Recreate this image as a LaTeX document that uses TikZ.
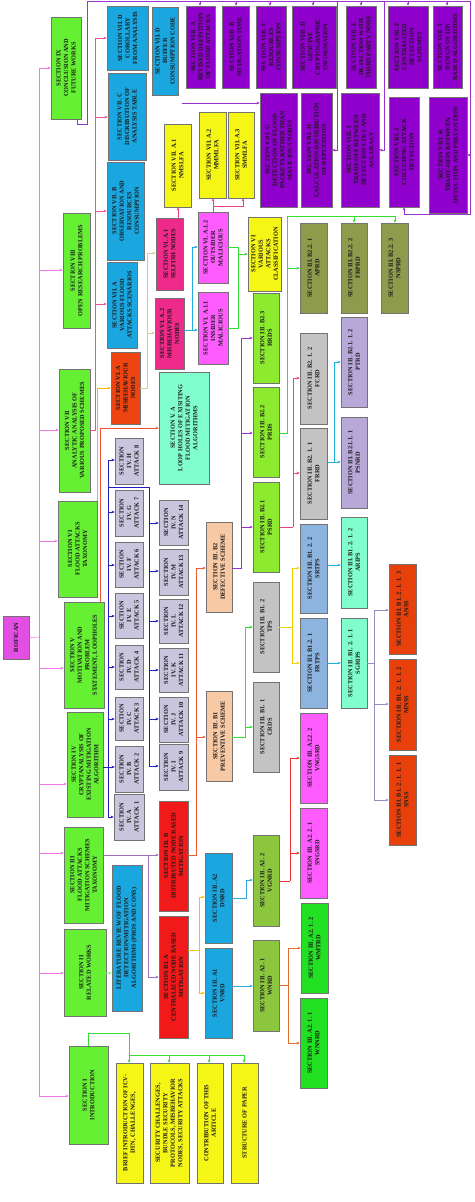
\documentclass[tikz,border=0pt]{standalone}
\usepackage{fontspec}
\setmainfont{Liberation Serif}
\usetikzlibrary{arrows.meta}
\definecolor{kgreen}{HTML}{66F033}
\definecolor{kblue}{HTML}{1AA7E0}
\definecolor{kyel}{HTML}{F5F516}
\definecolor{kpurp}{HTML}{9000CC}
\definecolor{katt}{HTML}{C9C5DD}
\definecolor{kred}{HTML}{F01A1A}
\definecolor{korg}{HTML}{EE4411}
\definecolor{kpink}{HTML}{EE2A8A}
\definecolor{kmag}{HTML}{FF5CFF}
\definecolor{kaqua}{HTML}{80FFCC}
\definecolor{kpeach}{HTML}{F7C9A5}
\definecolor{klime}{HTML}{8CEB2E}
\definecolor{kgray}{HTML}{C3C3C3}
\definecolor{kolive}{HTML}{8E9A4C}
\definecolor{ksteel}{HTML}{8DB4DE}
\definecolor{klav}{HTML}{B7A8D8}
\definecolor{knred}{HTML}{E8400A}
\definecolor{kygreen}{HTML}{8CC63E}
\definecolor{kbgreen}{HTML}{22E022}
\definecolor{krof}{HTML}{E24FE2}
% connector colours
\definecolor{lpink}{HTML}{EE77EE}
\definecolor{lpurp}{HTML}{9933CC}
\definecolor{lvii}{HTML}{F0509A}
\definecolor{lvi}{HTML}{F5B800}
\definecolor{lv}{HTML}{F05030}
\definecolor{liv}{HTML}{2020C0}
\definecolor{liii}{HTML}{A070C0}
\definecolor{liiib}{HTML}{F05A30}
\definecolor{liiia}{HTML}{F5C000}
\definecolor{lblue}{HTML}{30A8E0}
\definecolor{lred}{HTML}{F03030}
\definecolor{lbrown}{HTML}{E07030}
\definecolor{lgreen}{HTML}{33DD33}
\definecolor{lyel}{HTML}{F5D000}
\definecolor{lcyan}{HTML}{20B0E0}
\definecolor{lgl}{HTML}{9090C0}
\definecolor{lpk}{HTML}{F04080}
\definecolor{lkhaki}{HTML}{D8C89A}
\definecolor{lltg}{HTML}{88EE88}
\tikzset{
  box/.style={draw=black!55,line width=0.6pt,rotate=90,inner sep=0.5pt,align=center,
    text=black!90,font=\fontsize{6.3}{7.5}\selectfont\bfseries},
  conn/.style={line width=0.6pt},
  arr/.style={conn,-{Stealth[length=3.2pt,width=2.8pt]}}
}
\newcommand\bx[7]{%
  \node[box,#6,minimum width={(#5-#3)*1pt},minimum height={(#4-#2)*1pt}]
    (#1) at ({(#2+#4)/2},{(#3+#5)/2}) {#7};}
\begin{document}
\begin{tikzpicture}[x=1pt,y=-1pt]
\useasboundingbox (0,0) rectangle (474,1202);
\fill[white] (0,0) rectangle (474,1202);

% ---- main sections
\bx{rof}{3}{616}{29}{659}{fill=krof}{ROFICAN}
\bx{s1}{69}{1046}{108}{1144}{fill=kgreen}{SECTION I\\INTRODUCTION}
\bx{s2}{64}{929}{106}{1016}{fill=kgreen}{SECTION II\\RELATED WORKS}
\bx{s3}{64}{827}{103}{923}{fill=kgreen}{SECTION III\\FLOOD ATTACKS\\MITIGATION SCHEMES\\TAXONOMY}
\bx{s4}{67}{712}{103}{817}{fill=kgreen}{SECTION IV\\CRYPTANALYSIS OF\\EXISTING MITIGATION\\ALGORITHM}
\bx{s5}{64}{602}{104}{708}{fill=kgreen}{SECTION V\\MOTIVATION AND\\PROBLEM\\STATEMENT, LOOPHOLES}
\bx{s6}{58}{501}{97}{597}{fill=kgreen}{SECTION VI\\FLOOD ATTACKS\\TAXONOMY}
\bx{s7}{59}{369}{90}{492}{fill=kgreen}{SECTION VII\\ANALYTIC ANALYSIS OF\\VARIOUS PROPOSED SCHEMES}
\bx{s8}{63}{213}{90}{328}{fill=kgreen}{SECTION VIII\\OPEN RESEARCH PROBLEMS}
\bx{s9}{51}{17}{81}{119}{fill=kgreen}{SECTION IX\\CONCLUSION AND\\FUTURE WORKS}

% ---- column B
\bx{s7d}{107}{6}{148}{70}{fill=kblue}{SECTION VII. D\\COROLLARY\\FROM ANALYSIS}
\bx{s7c}{108}{73}{146}{160}{fill=kblue}{SECTION VII. C\\DISCRIBUTION OF\\ANALYSIS TABLE}
\bx{s7b}{107}{162}{144}{260}{fill=kblue}{SECTION VII. B\\OBSERVATION AND\\RESOURCES\\CONSUMPTION}
\bx{s7a}{107}{262}{137}{348}{fill=kblue}{SECTION VII. A\\VARIOUS FLOOD\\ATTACKS SCENARIOS}
\bx{s6a}{111}{352}{140}{424}{fill=korg}{SECTION VI. A\\MISBEHAVIOUR\\NODES}
\bx{a8}{115}{438}{143}{484}{fill=katt}{SECTION\\IV. H\\ATTACK 8}
\bx{a7}{115}{490}{143}{536}{fill=katt}{SECTION\\IV. G\\ATTACK 7}
\bx{a6}{115}{542}{143}{587}{fill=katt}{SECTION\\IV. F\\ATTACK 6}
\bx{a5}{115}{593}{143}{638}{fill=katt}{SECTION\\IV. E\\ATTACK 5}
\bx{a4}{115}{645}{143}{689}{fill=katt}{SECTION\\IV. D\\ATTACK 4}
\bx{a3}{115}{697}{143}{740}{fill=katt}{SECTION\\IV. C\\ATTACK 3}
\bx{a2}{115}{746}{143}{792}{fill=katt}{SECTION\\IV. B\\ATTACK 2}
\bx{a1}{114}{794}{144}{840}{fill=katt}{SECTION\\IV. A\\ATTACK 1}
\bx{lit}{112}{865}{142}{1011}{fill=kblue}{LITERATURE REVIEW OF FLOOD\\DETECTION/MITIGATION\\ALGORITHMS (PROS AND CONS)}
\bx{y1}{116}{1063}{143}{1183}{fill=kyel}{BRIEF INTRODUCTION OF ICV-\\DTN, CHALLENGES,}
\bx{y2}{150}{1063}{189}{1183}{fill=kyel}{SECURITY CHALLENGES,\\BUNDLE SECURITY\\PROTOCOLS, MISBEHAVIOR\\NODES, SECURITY ATTACKS}
\bx{y3}{197}{1063}{223}{1183}{fill=kyel}{CONTRIBUTION OF THIS\\ARTICLE}
\bx{y4}{231}{1063}{258}{1183}{fill=kyel}{STRUCTURE OF PAPER}

% ---- column C
\bx{s7dd}{152}{7}{178}{95}{fill=kblue}{SECTION VII. D\\BUFFER\\CONSUMPTION CODE}
\bx{s7a1}{164}{124}{191}{207}{fill=kyel}{SECTION VII. A.1\\NMSLFA}
\bx{s7a2}{199}{112}{226}{198}{fill=kyel}{SECTION VII. A.2\\MMMLFA}
\bx{s7a3}{228}{112}{254}{198}{fill=kyel}{SECTION VII. A.3\\SMMLFA}
\bx{s6a1}{156}{218}{183}{290}{fill=kpink}{SECTION VI. A.1\\SELFISH NODES}
\bx{s6a2}{155}{298}{184}{369}{fill=kpink}{SECTION VI. A.2\\MISBEHAVIOUR\\NODES}
\bx{s6a12}{198}{212}{228}{283}{fill=kmag}{SECTION VI. A.1.2\\OUTSIDER\\MALICIOUS}
\bx{s6a11}{198}{292}{228}{364}{fill=kmag}{SECTION VI. A.1.1\\INSIDER\\MALICIOUS}
\bx{s5a}{159}{372}{209}{484}{fill=kaqua}{SECTION V. A\\LOOP HOLES OF EXISITING\\FLOOD MITIGATION\\ALGORITHMS}
\bx{a14}{159}{500}{188}{545}{fill=katt}{SECTION\\IV. N\\ATTACK 14}
\bx{a13}{159}{549}{188}{595}{fill=katt}{SECTION\\IV. M\\ATTACK 13}
\bx{a12}{159}{599}{188}{643}{fill=katt}{SECTION\\IV. L\\ATTACK 12}
\bx{a11}{159}{648}{188}{692}{fill=katt}{SECTION\\IV. K\\ATTACK 11}
\bx{a10}{159}{697}{188}{742}{fill=katt}{SECTION\\IV. J\\ATTACK 10}
\bx{a9}{159}{744}{188}{790}{fill=katt}{SECTION\\IV. I\\ATTACK 9}
\bx{s3b}{159}{801}{188}{911}{fill=kred}{SECTION III. B\\DISTRIBUTED NODE BASED\\MITIGATION}
\bx{s3a}{159}{916}{188}{1038}{fill=kred}{SECTION III. A\\CENTRALIZED NODE BASED\\MITIGATION}

% ---- column D
\bx{b2}{206}{522}{232}{612}{fill=kpeach}{SECTION III. B2\\DEFECTIVE SCHEME}
\bx{b1}{206}{691}{232}{781}{fill=kpeach}{SECTION III. B1\\PREVENTIVE SCHEME}
\bx{an2}{205}{853}{232}{943}{fill=kblue}{SECTION III. A2\\DNRD}
\bx{an1}{205}{948}{232}{1038}{fill=kblue}{SECTION III. A1\\VNRD}

% ---- column E
\bx{vac}{248}{217}{281}{291}{fill=kyel}{SECTION VI\\VARIOUS\\ATTACKS\\CLASSIFICATION}
\bx{b23}{253}{293}{279}{383}{fill=klime}{SECTION III. B2.3\\RRDS}
\bx{b22}{253}{387}{279}{477}{fill=klime}{SECTION III. B2.2\\PRDS}
\bx{b21}{253}{482}{279}{572}{fill=klime}{SECTION III. B2.1\\PSRD}
\bx{b12}{253}{582}{279}{672}{fill=kgray}{SECTION III. B1. 2\\TPS}
\bx{b11}{253}{682}{279}{772}{fill=kgray}{SECTION III. B1. 1\\CRDS}
\bx{a22}{253}{835}{279}{926}{fill=kygreen}{SECTION III. A2. 2\\VGNRD}
\bx{a21}{253}{940}{279}{1031}{fill=kygreen}{SECTION III. A2. 1\\WNRD}

% ---- column F
\bx{b221}{300}{223}{327}{313}{fill=kolive}{SECTION III. B2.2. 1\\APRD}
\bx{b222}{341}{223}{367}{313}{fill=kolive}{SECTION III. B2.2. 2\\FRPRD}
\bx{b223}{381}{223}{408}{313}{fill=kolive}{SECTION III. B2.2. 3\\NSPRD}
\bx{b212}{300}{333}{327}{424}{fill=kgray}{SECTION III. B2. 1. 2\\FCRD}
\bx{b211}{300}{428}{327}{519}{fill=kgray}{SECTION III. B2. 1. 1\\FRRD}
\bx{b122}{300}{524}{327}{613}{fill=ksteel}{SECTION III. B1. 2. 2\\SRTPS}
\bx{b121}{300}{618}{327}{708}{fill=ksteel}{SECTION III. B1.2. 1\\FRTPS}
\bx{a222}{300}{713}{327}{803}{fill=kmag}{SECTION III. A2.2. 2\\VNGSRD}
\bx{a221}{300}{808}{327}{898}{fill=kmag}{SECTION III. A2. 2. 1\\SNGSRD}
\bx{a212}{301}{903}{328}{993}{fill=kbgreen}{SECTION III. A2. 1. 2\\WMTRD}
\bx{a211}{300}{998}{327}{1088}{fill=kbgreen}{SECTION III. A2. 1. 1\\WNNRD}

% ---- column G
\bx{b2112}{341}{317}{367}{407}{fill=klav}{SECTION III. B2.1. 1. 2\\PTRD}
\bx{b2111}{341}{417}{367}{508}{fill=klav}{SECTION III. B2.1.1. 1\\PSNRD}
\bx{b1212}{341}{517}{367}{608}{fill=kaqua}{SECTION III. B1. 2. 1. 2\\ARIPS}
\bx{b1211}{341}{618}{367}{708}{fill=kaqua}{SECTION III. B1. 2. 1. 1\\SGRIPS}

% ---- column H
\bx{b12113}{389}{564}{416}{654}{fill=knred}{SECTION III. B1. 2. 1. 1. 3\\ANSS}
\bx{b12112}{389}{659}{416}{750}{fill=knred}{SECTION III. B1. 2. 1. 1. 2\\MNSS}
\bx{b12111}{389}{755}{416}{845}{fill=knred}{SECTION III. B1. 2. 1. 1. 1\\SNSS}

% ---- purple (open research problems)
\bx{p8a}{186}{6}{215}{88}{fill=kpurp}{SECTION VIII. A\\REVISED DEFINITION\\OF FLOOD ATTACKS}
\bx{p8b}{222}{6}{249}{88}{fill=kpurp}{SECTION VIII. B\\MITIGATION TIME}
\bx{p8c}{256}{6}{286}{88}{fill=kpurp}{SECTION VIII. C\\RESOURCES\\CONSUMPTION}
\bx{p8d}{292}{6}{336}{88}{fill=kpurp}{SECTION VIII. D\\GENUINE\\CRYPTOGRAPHIC\\INFORMATION}
\bx{p8e}{346}{6}{376}{88}{fill=kpurp}{SECTION VIII. E\\DETECTION WITH\\THIRD PARTY NODE}
\bx{p8f}{388}{6}{428}{88}{fill=kpurp}{SECTION VIII. F\\CENTRALIZED\\DETECTION\\SCHEMES}
\bx{p8l}{433}{6}{462}{88}{fill=kpurp}{SECTION VIII. L\\DESIGN OF IDS\\BASED ALGORITHMS}
\bx{p8g}{260}{93}{297}{207}{fill=kpurp}{SECTION VIII. G\\DETECTION OF FLOOD\\PACKETS RATHER THAN\\MALICIOUS NODES}
\bx{p8h}{301}{93}{332}{207}{fill=kpurp}{SECTION VIII. H\\CALCULATION/DISTRIBUTION\\OF REPUTATION}
\bx{p8i}{341}{93}{379}{207}{fill=kpurp}{SECTION VIII. I\\TRADE OFF BETWEEN\\DETECTION COST AND\\ACCURACY}
\bx{p8j}{389}{97}{419}{207}{fill=kpurp}{SECTION VIII. J\\COLLUDING ATTACK\\DETECTION}
\bx{p8k}{429}{97}{467}{213}{fill=kpurp}{SECTION VIII. K\\TRADE-OFFS BETWEEN\\DETECTION AND PREVENTION}

% ================= connectors
% trunk from ROFICAN
\draw[conn,lpink] (rof.south) -- (39,637);
\draw[conn,lpink] (39,68) -- (39,1096);
\foreach \yy/\nn in {68/s9,270/s8,430/s7,541/s6,668/s5,784/s4,853/s3,973/s2,1096/s1}
  \draw[arr,lpink] (39,\yy) -- (\nn.north |- 0,\yy);

% Section IX / VIII purple bus
\draw[conn,lpurp] (77,0 |- s9.west) -- (77,124) -- (87,124) -- (87,1.5) -- (470,1.5) -- (470,214) -- (404,214);
\draw[arr,lpurp] (404,214) -- (404,0 |- p8j.west);
\foreach \xx/\nn in {200/p8a,236/p8b,270/p8c,313/p8d,361/p8e,408/p8f,447/p8l}
  \draw[arr,lpurp] (\xx,1.5) -- (\xx,0 |- \nn.east);
\draw[arr,lpurp] (337,1.5) -- (337,150) -- (p8h.south |- 0,150);
\draw[arr,lpurp] (384,1.5) -- (384,150) -- (p8i.south |- 0,150);
\draw[arr,lpurp] (470,155) -- (p8k.south |- 0,155);
\draw[arr,lpurp] (182,103) -- (p8g.north |- 0,103);

% Section VII -> VII.A..D
\draw[conn,lvii] (s7.south |- 0,430) -- (95,430) -- (95,38);
\foreach \yy/\nn in {38/s7d,117/s7c,211/s7b,304/s7a}
  \draw[arr,lvii] (95,\yy) -- (\nn.north |- 0,\yy);

% Section VI -> VI.A
\draw[arr,lvi] (97,0 |- s6.east) -- (97,388) -- (s6a.north |- 0,388);
% Section V -> V.A
\draw[arr,lv] (100,0 |- s5.east) -- (100,428) -- (s5a.north |- 0,428);

% Section IV -> attacks
\draw[conn,liv] (s4.south |- 0,767) -- (108,767);
\draw[conn,liv] (108,460) -- (108,817);
\foreach \yy/\nn in {460/a8,512/a7,565/a6,616/a5,667/a4,719/a3,767/a2,817/a1}
  \draw[arr,liv] (108,\yy) -- (\nn.north |- 0,\yy);
\draw[conn,liv] (108,487) -- (149,487) -- (149,766);
\foreach \yy/\nn in {523/a14,571/a13,621/a12,670/a11,719/a10,766/a9}
  \draw[arr,liv] (149,\yy) -- (\nn.north |- 0,\yy);

% Section III -> III.A, III.B
\draw[arr,liii] (s3.south |- 0,855) -- (s3b.north |- 0,855);
\draw[arr,liii] (148,855) -- (148,977) -- (s3a.north |- 0,977);

% III.B -> B1, B2
\draw[conn,liiib] (s3b.south |- 0,855) -- (196,855) -- (196,568);
\draw[arr,liiib] (196,568) -- (b2.north |- 0,568);
\draw[arr,liiib] (196,737) -- (b1.north |- 0,737);

% III.A -> A1, A2
\draw[conn,liiia] (s3a.south |- 0,950) -- (199,950);
\draw[conn,liiia] (199,897) -- (199,993);
\draw[arr,liiia] (199,897) -- (an2.north |- 0,897);
\draw[arr,liiia] (199,993) -- (an1.north |- 0,993);

% A2 -> A2.2 ; A1 -> A2.1
\draw[arr,lblue] (an2.south |- 0,898) -- (246,898) -- (246,880) -- (a22.north |- 0,880);
\draw[arr,lblue] (an1.south |- 0,986) -- (a21.north |- 0,986);

% A2.2 -> children
\draw[conn,lred] (a22.south |- 0,881) -- (290,881);
\draw[conn,lred] (290,758) -- (290,881);
\draw[arr,lred] (290,853) -- (a221.north |- 0,853);
\draw[arr,lred] (290,758) -- (a222.north |- 0,758);

% A2.1 -> children
\draw[conn,lbrown] (a21.south |- 0,985) -- (288,985);
\draw[conn,lbrown] (288,948) -- (288,1043);
\draw[arr,lbrown] (288,948) -- (a212.north |- 0,948);
\draw[arr,lbrown] (288,1043) -- (a211.north |- 0,1043);

% B1 -> B1.1, B1.2
\draw[conn,lgreen] (b1.south |- 0,737) -- (245,737) -- (245,627);
\draw[arr,lgreen] (245,627) -- (b12.north |- 0,627);
\draw[arr,lgreen] (245,727) -- (b11.north |- 0,727);

% B1.2 -> FRTPS, SRTPS
\draw[conn,lyel] (b12.south |- 0,627) -- (292,627);
\draw[conn,lyel] (292,568) -- (292,663);
\draw[arr,lyel] (292,568) -- (b122.north |- 0,568);
\draw[arr,lyel] (292,663) -- (b121.north |- 0,663);

% FRTPS -> SGRIPS ; SRTPS -> ARIPS
\draw[arr,lcyan] (b121.south |- 0,663) -- (b1211.north |- 0,663);
\draw[arr,lcyan] (b122.south |- 0,565) -- (b1212.north |- 0,565);

% SGRIPS -> SNSS, MNSS, ANSS
\draw[conn,lgl] (b1211.south |- 0,663) -- (374,663);
\draw[conn,lgl] (374,610) -- (374,800);
\draw[arr,lgl] (374,610) -- (b12113.north |- 0,610);
\draw[arr,lgl] (374,704) -- (b12112.north |- 0,704);
\draw[arr,lgl] (374,800) -- (b12111.north |- 0,800);

% B2 -> B2.1, B2.2, B2.3
\draw[conn,lpurp] (b2.south |- 0,568) -- (241,568) -- (241,338);
\draw[arr,lpurp] (241,338) -- (b23.north |- 0,338);
\draw[arr,lpurp] (241,433) -- (b22.north |- 0,433);
\draw[arr,lpurp] (241,527) -- (b21.north |- 0,527);

% PSRD -> FRRD, FCRD
\draw[conn,lpk] (b21.south |- 0,527) -- (293,527);
\draw[conn,lpk] (293,378) -- (293,527);
\draw[arr,lpk] (293,473) -- (b211.north |- 0,473);
\draw[arr,lpk] (293,378) -- (b212.north |- 0,378);

% PRDS -> APRD, FRPRD, NSPRD
\draw[conn,lgreen] (b22.south |- 0,433) -- (287,433) -- (287,216) -- (395,216);
\draw[arr,lgreen] (287,268) -- (b221.north |- 0,268);
\draw[arr,lgreen] (354,216) -- (354,0 |- b222.east);
\draw[arr,lgreen] (395,216) -- (395,0 |- b223.east);

% FRRD -> PSNRD, PTRD
\draw[conn,lcyan] (b211.south |- 0,462) -- (334,462) -- (334,362);
\draw[arr,lcyan] (334,462) -- (b2111.north |- 0,462);
\draw[arr,lcyan] (334,362) -- (b2112.north |- 0,362);

% VI.A -> VI.A.1, VI.A.2
\draw[conn,lkhaki] (s6a.south |- 0,388) -- (147,388) -- (147,253);
\draw[arr,lkhaki] (147,253) -- (s6a1.north |- 0,253);
\draw[arr,lkhaki] (147,333) -- (s6a2.north |- 0,333);

% SELFISH -> NMSLFA
\draw[arr,lpk] (178,0 |- s6a1.east) -- (178,0 |- s7a1.west);
% OUTSIDER -> MMMLFA, SMMLFA
\draw[arr,lpk] (213,0 |- s6a12.east) -- (213,0 |- s7a2.west);
\draw[arr,lpk] (213,206) -- (243,206) -- (243,0 |- s7a3.west);

% VI.A.2 -> INSIDER, OUTSIDER
\draw[conn,lcyan] (s6a2.south |- 0,330) -- (192,330) -- (192,247);
\draw[arr,lcyan] (192,247) -- (s6a12.north |- 0,247);
\draw[arr,lcyan] (192,330) -- (s6a11.north |- 0,330);

% INSIDER / OUTSIDER -> VARIOUS ATTACKS CLASSIFICATION
\draw[conn,lgreen] (s6a12.south |- 0,247) -- (238,247) -- (238,328) -- (s6a11.south |- 0,328);
\draw[arr,lgreen] (238,254) -- (vac.north |- 0,254);

% Section II -> literature review
\draw[arr,lltg] (s2.south |- 0,973) -- (lit.north |- 0,973);

% Section I -> yellow boxes
\draw[conn,lgreen] (88,0 |- s1.east) -- (88,1033) -- (129,1033) -- (129,1055) -- (244,1055);
\foreach \xx/\nn in {129/y1,169/y2,209/y3,244/y4}
  \draw[arr,lgreen] (\xx,1055) -- (\xx,0 |- \nn.east);
\end{tikzpicture}
\end{document}
